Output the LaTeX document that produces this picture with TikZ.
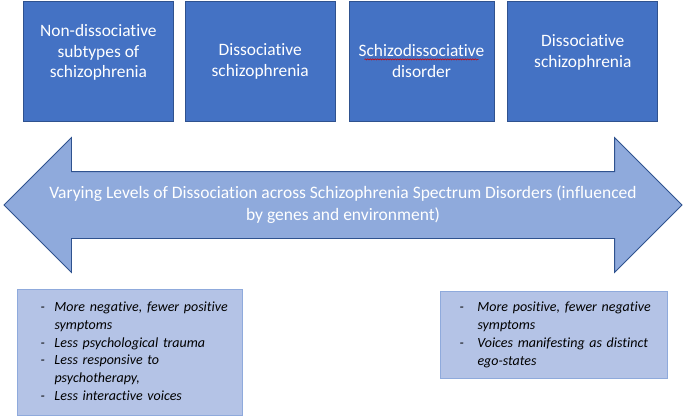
\documentclass[tikz,border=0pt]{standalone}
\usepackage{fontspec}
\setmainfont{Carlito}[Ligatures=NoCommon]
\usetikzlibrary{positioning}
\usetikzlibrary{shapes.arrows}
\usetikzlibrary{decorations.pathmorphing}

\definecolor{spectrumblue}{HTML}{4472C4}
\definecolor{spectrumedge}{HTML}{2F528F}
\definecolor{arrowblue}{HTML}{8FAADC}
\definecolor{notesblue}{HTML}{B4C3E6}
\definecolor{notesedge}{HTML}{8FAADC}

\begin{document}
\begin{tikzpicture}[x=1pt, y=1pt, every node/.style={inner sep=0pt},
    subtype/.style={draw=spectrumedge, fill=spectrumblue, line width=0.8pt, text=white, align=center,%
      minimum width=150pt, minimum height=120pt, font=\fontsize{17.4}{20.8}\selectfont},
    notes/.style={draw=notesedge, fill=notesblue, line width=1pt, font=\fontsize{14}{17.7}\selectfont\itshape}]
  \useasboundingbox (0,0) rectangle (685,-417);
  \node[subtype, anchor=north west] (nondiss) at (23,-1)
    {Non-dissociative\\subtypes of\\schizophrenia\\~};
  \node[subtype, right=11pt of nondiss] (diss)
    {Dissociative\\schizophrenia};
  \node[subtype, minimum width=145pt, right=13pt of diss] (schizodiss)
    {Schizodissociative\\disorder};
  \node[subtype, right=13pt of schizodiss] (dissright)
    {Dissociative\\schizophrenia\\~};
  \draw[red!80!black, line width=0.5pt, decorate, decoration={snake, amplitude=0.6pt, segment length=2.5pt}]
    ([shift={(-57,2)}]schizodiss.center) -- ([shift={(57,2)}]schizodiss.center);
  \node[shape=double arrow, draw=spectrumedge, fill=arrowblue, line width=0.8pt,%
    inner ysep=33pt, minimum height=678pt, double arrow head extend=34pt] (spectrum) at (343,-205) {};
  \node[text=white, align=center, font=\fontsize{17.5}{22}\selectfont] (spectrumtext) at (spectrum)
    {Varying Levels of Dissociation across Schizophrenia Spectrum Disorders (influenced\\by genes and environment)};
  \node[notes, anchor=north west, text width=179pt, inner xsep=23pt, minimum height=126pt] (negnotes) at (17,-289)
    {\begin{tabular}{@{}p{14pt}@{}l@{}}
      - & More negative, fewer positive\\
        & symptoms\\
      - & Less psychological trauma\\
      - & Less responsive to\\
        & psychotherapy,\\
      - & Less interactive voices
    \end{tabular}};
  \node[notes, anchor=north east, text width=189pt, inner xsep=19pt, minimum height=87pt] (posnotes) at (668,-291)
    {\begin{tabular}{@{}p{18pt}@{}l@{}}
      - & More positive, fewer negative\\
        & symptoms\\
      - & Voices manifesting as distinct\\
        & ego-states
    \end{tabular}};
\end{tikzpicture}
\end{document}
